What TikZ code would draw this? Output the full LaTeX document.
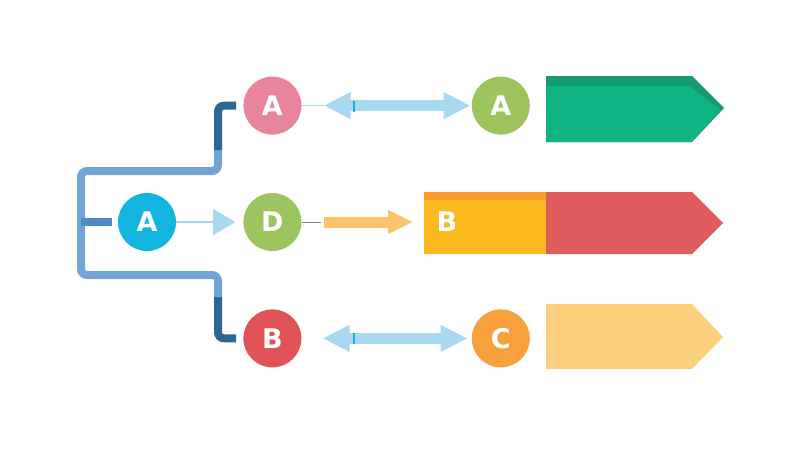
\documentclass[tikz,border=0pt]{standalone}
\usepackage{fontspec}
\setmainfont{DejaVu Sans}
\usetikzlibrary{positioning}
\usetikzlibrary{arrows.meta}
\definecolor{cyanA}{HTML}{12B4E0}
\definecolor{greenD}{HTML}{9CC45F}
\definecolor{pinkA}{HTML}{E8849C}
\definecolor{redB}{HTML}{E05457}
\definecolor{greenA}{HTML}{9DC45E}
\definecolor{orangeC}{HTML}{F7A03C}
\definecolor{trunkLight}{HTML}{74A4D4}
\definecolor{trunkDark}{HTML}{2E6891}
\definecolor{trunkMid}{HTML}{4F8BC4}
\definecolor{skyArrow}{HTML}{A9D8F1}
\definecolor{peachArrow}{HTML}{F9C46C}
\definecolor{tagTeal}{HTML}{10B383}
\definecolor{tagTealDark}{HTML}{169A72}
\definecolor{tagRed}{HTML}{E05C5C}
\definecolor{tagYellow}{HTML}{FBB81F}
\definecolor{tagOrange}{HTML}{F99B31}
\definecolor{tagPeach}{HTML}{FDD07D}
\tikzstyle{disc} = [circle, minimum size=58pt, inner sep=0pt, text=white, font=\fontsize{27}{27}\selectfont\bfseries, node distance=58pt]
\tikzstyle{trunk} = [line width=8pt, rounded corners=6pt]
\tikzset{
  twoway/.style={line width=11pt, skyArrow, {Triangle[width=25pt,length=27pt]}-{Triangle[width=25pt,length=27pt]}},
  oneway/.style={line width=11pt, peachArrow, -{Triangle[width=22pt,length=25pt]}},
  thinway/.style={line width=1.2pt, skyArrow, -{Triangle[width=26pt,length=22pt]}}
}

\begin{document}
\begin{tikzpicture}[x=1pt, y=-1pt]
\useasboundingbox (0,0) rectangle (800,450);

% Define nodes
\node[disc, fill=cyanA]                        (cA) at (147,222) {A};
\node[disc, fill=greenD, right = 67pt of cA]   (dD) {D};
\node[disc, fill=pinkA, above = of dD]         (pA) {A};
\node[disc, fill=redB, below = of dD]          (rB) {B};
\node[disc, fill=greenA, right = 170pt of pA]  (gA) {A};
\node[disc, fill=orangeC, right = 170pt of rB] (oC) {C};

% Tags
\fill[tagTealDark] (546,76) -- (692,76) -- (724,108) -- (692,142) -- (546,142) -- cycle;
\fill[tagTeal] (546,86) -- (689,86) -- (721,110) -- (692,142) -- (546,142) -- cycle;
\fill[tagYellow] (424,192) rectangle (546,254);
\fill[tagOrange] (424,192) rectangle (546,200);
\fill[tagRed] (546,192) -- (692,192) -- (723,223) -- (692,254) -- (546,254) -- cycle;
\fill[tagPeach] (546,304) -- (692,304) -- (723,337) -- (692,369) -- (546,369) -- cycle;
\node[text=white, font=\fontsize{27}{27}\selectfont\bfseries] (bTag) at (447,222) {B};

% Edges
\draw[trunk, trunkLight] (218,150) |- (81,171) -- (81,275) -| (218,297);
\draw[trunk, trunkDark] ([xshift=-7pt]pA.west) -| (218,150);
\draw[trunk, trunkDark] (218,297) |- ([xshift=-7pt]rB.west);
\draw[line width=8pt, trunkMid] (81,222) -- ([xshift=-6pt]cA.west);

\draw[thinway] (cA.east) -- ([xshift=-8pt]dD.west);

\draw[line width=0.8pt, skyArrow] (pA.east) -- ++(22,0);
\draw[twoway] ([xshift=22pt]pA.east) -- ([xshift=-1pt]gA.west);
\fill[cyanA] (353,100.5) rectangle (355,111.5);

\draw[line width=0.6pt, gray] (dD.east) -- ++(19,0);
\draw[oneway] ([xshift=22pt]dD.east) -- ([xshift=-20pt]bTag.west |- dD.east);

\draw[twoway] ([xshift=21pt]rB.east) -- ([xshift=-4pt]oC.west);
\fill[cyanA] (353,332.5) rectangle (355,343.5);
\end{tikzpicture}
\end{document}
